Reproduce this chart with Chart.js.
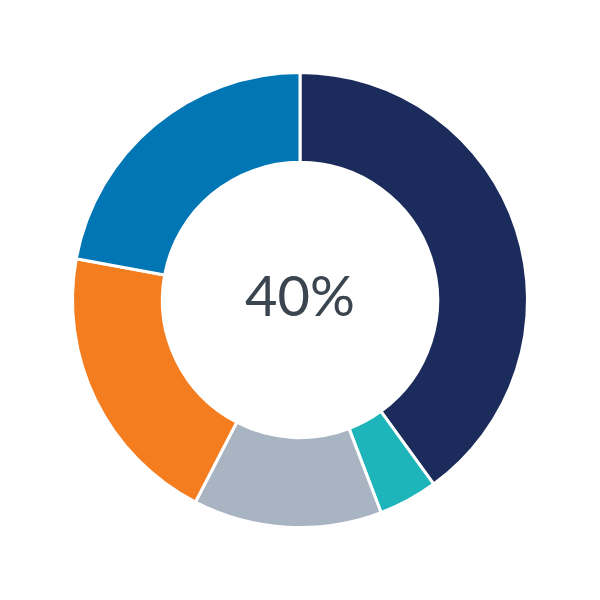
<!DOCTYPE html>
<html>
<head>
<meta charset="utf-8">
<script src="https://cdn.jsdelivr.net/npm/chart.js@4.4.0/dist/chart.umd.min.js"></script>
<style>
  html, body { margin: 0; padding: 0; background: #fff; }
  .wrap { position: relative; width: 600px; height: 600px; }
  .center-label {
    position: absolute; left: 0; top: -6px; width: 600px; height: 600px;
    display: flex; align-items: center; justify-content: center;
    font-family: Lato, "Open Sans", sans-serif; font-size: 56px; color: #3b4550;
    pointer-events: none;
  }
</style>
</head>
<body>
<div class="wrap">
  <canvas id="donut" width="600" height="600"></canvas>
  <div class="center-label" id="centerLabel"></div>
</div>
<script>
// data, clockwise from 12 o'clock
const labels = ["Navy", "Teal", "Gray", "Orange", "Blue"];
const shares = [40, 4.2, 13.4, 20.3, 22.1];
const colors = ["#1b2b5b", "#1db5b9", "#a9b4c2", "#f47d20", "#0076b5"];
const centerText = "40%";

document.getElementById("centerLabel").textContent = centerText;

new Chart(document.getElementById("donut").getContext("2d"), {
  type: "doughnut",
  data: {
    labels: labels,
    datasets: [{
      data: shares,
      backgroundColor: colors,
      borderColor: "#ffffff",
      borderWidth: 3,
    }],
  },
  options: {
    responsive: false,
    animation: false,
    cutout: "60.5%",
    layout: { padding: 71 },
    plugins: {
      legend: { display: false },
      tooltip: { enabled: false },
    },
  },
});
</script>
</body>
</html>
